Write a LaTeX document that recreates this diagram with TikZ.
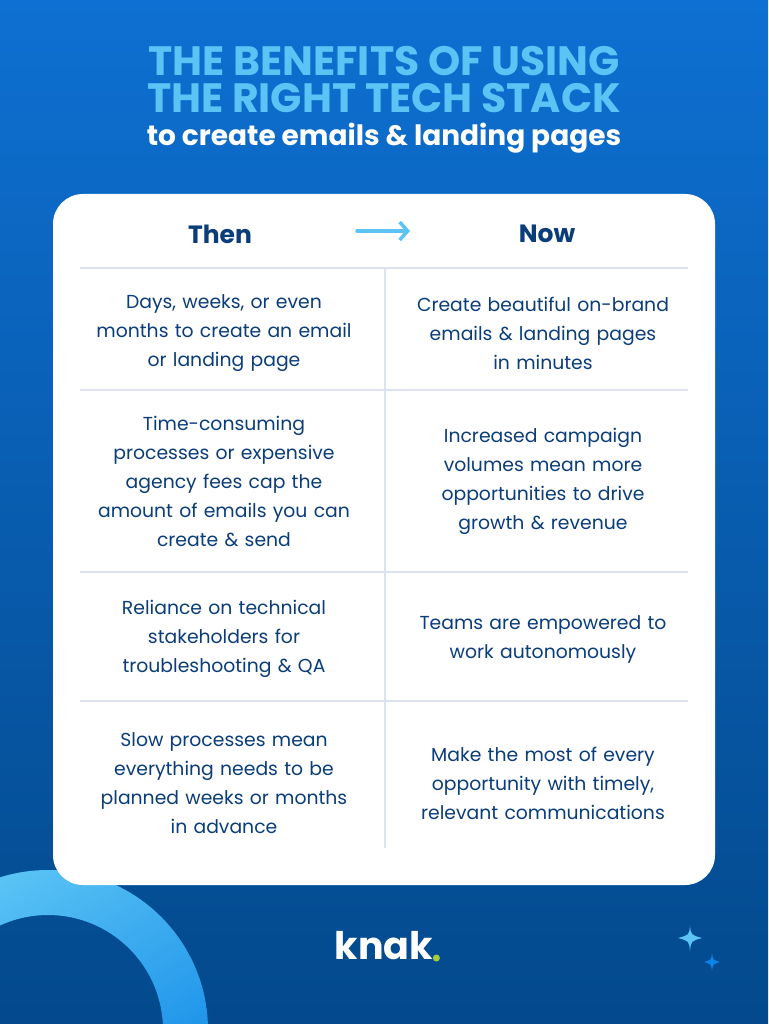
\documentclass[tikz,border=0pt]{standalone}
\usepackage{fontspec}
\setmainfont{Poppins}
\usetikzlibrary{arrows.meta}
\definecolor{bgtop}{HTML}{0E70D2}
\definecolor{bgbot}{HTML}{03498C}
\definecolor{lblue}{HTML}{5BC4F5}
\definecolor{ink}{HTML}{0A3D7A}
\definecolor{rule}{HTML}{DDE3EE}
\definecolor{knakgreen}{HTML}{A6CE39}
\definecolor{ringA}{HTML}{5BC4F5}
\definecolor{ringB}{HTML}{0A84E6}
\tikzset{
  cell/.style={align=center,text=ink,font=\fontsize{18.8}{29}\selectfont,text width=300pt},
  head/.style={text=ink,font=\bfseries\fontsize{25}{26}\selectfont},
  rl/.style={draw=rule,line width=2.5pt}
}
\begin{document}
\begin{tikzpicture}[x=1pt,y=-1pt]
\shade[top color=bgtop,bottom color=bgbot] (0,0) rectangle (768,1024);
\path[use as bounding box] (0,0) rectangle (768,1024);
% ring
\begin{scope}
\clip (0,0) rectangle (768,1024);
\shade[even odd rule,top color=ringA,bottom color=ringB,shading angle=30]
 (48,1030) circle (160) (48,1030) circle (115);
\end{scope}
% title
\node[text=lblue,font=\bfseries\fontsize{41}{42}\selectfont] (t1) at (384,61) {THE BENEFITS OF USING};
\node[text=lblue,font=\bfseries\fontsize{41}{42}\selectfont] (t2) at (384,98) {THE RIGHT TECH STACK};
\node[text=white,font=\bfseries\fontsize{28}{30}\selectfont] (t3) at (384,138) {to create emails \& landing pages};
% card
\fill[white,rounded corners=30pt] (53,194) rectangle (715,885);
\node[head] (then) at (220,234) {Then};
\node[head] (now) at (547,234) {Now};
\coordinate (a1) at (357,231);
\coordinate (a2) at (410,231);
\draw[lblue,line width=3.5pt,line cap=round,-{Straight Barb[length=8pt,width=18pt,line width=3.5pt]}] (a1) -- (a2);
\foreach \y in {268,390,572,701}{\draw[rl] (80,\y) -- (688,\y);}
\draw[rl] (385,268) -- (385,848);
\node[cell] (c11) at (224,333) {Days, weeks, or even\\months to create an email\\or landing page};
\node[cell] (c12) at (543,333) {Create beautiful on-brand\\emails \& landing pages\\in minutes};
\node[cell] (c21) at (224,481) {Time-consuming\\processes or expensive\\agency fees cap the\\amount of emails you can\\create \& send};
\node[cell] (c22) at (543,481) {Increased campaign\\volumes mean more\\opportunities to drive\\growth \& revenue};
\node[cell] (c31) at (224,639) {Reliance on technical\\stakeholders for\\troubleshooting \& QA};
\node[cell] (c32) at (543,639) {Teams are empowered to\\work autonomously};
\node[cell] (c41) at (224,783) {Slow processes mean\\everything needs to be\\planned weeks or months\\in advance};
\node[cell] (c42) at (543,783) {Make the most of every\\opportunity with timely,\\relevant communications};
% logo
\node[text=white,font=\bfseries\fontsize{38}{40}\selectfont,inner sep=0pt] (logo) at (384,946) {knak};
\fill[knakgreen] (logo.east) ++(3,12) circle (3.5);
% stars
\fill[lblue] (690,926) .. controls (691,935) .. (702,938) .. controls (691,941) .. (690,951) .. controls (689,941) .. (678,938) .. controls (689,935) .. (690,926) -- cycle;
\fill[ringB] (712,953) .. controls (713,960) .. (720,962) .. controls (713,964) .. (712,971) .. controls (711,964) .. (704,962) .. controls (711,960) .. (712,953) -- cycle;
\end{tikzpicture}
\end{document}
